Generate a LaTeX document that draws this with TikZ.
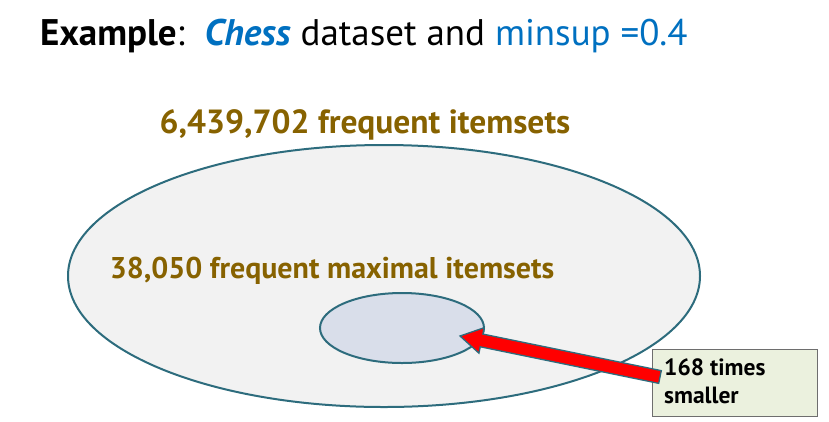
\documentclass[tikz,border=0pt]{standalone}
\usepackage{fontspec}
\setmainfont{PT Sans}
\usetikzlibrary{calc,shapes.geometric}
\definecolor{titleblue}{RGB}{0,112,192}
\definecolor{brownt}{RGB}{135,98,0}
\definecolor{tealline}{RGB}{45,108,125}
\definecolor{bigfill}{RGB}{242,242,242}
\definecolor{smallfill}{RGB}{217,222,234}
\definecolor{boxfill}{RGB}{235,241,222}
\definecolor{boxline}{RGB}{110,110,110}
\begin{document}
\begin{tikzpicture}[x=1pt,y=-1pt,
  setell/.style={ellipse, draw=tealline, line width=2pt, inner sep=0pt},
  brownlbl/.style={text=brownt, inner sep=0pt},
  notebox/.style={draw=boxline, fill=boxfill, line width=1pt, minimum width=165pt, minimum height=67pt, inner sep=0pt}]
\useasboundingbox (0,0) rectangle (829,421);
\node[anchor=west, inner sep=0pt, font=\fontsize{37}{44}\selectfont] (title) at (40,36)
  {\textbf{Example}:\ \ \textcolor{titleblue}{\textbf{\textit{Chess}}} dataset and \textcolor{titleblue}{minsup =0.4}};
\node[brownlbl, font=\fontsize{33.5}{38}\selectfont\bfseries] (lblall) at (365,125) {6,439,702 frequent itemsets};
\node[setell, fill=bigfill, minimum width=632pt, minimum height=262pt] (big) at (384,276) {};
\node[brownlbl, font=\fontsize{30}{36}\selectfont\bfseries] (lblmax) at (332,271) {38,050 frequent maximal itemsets};
\node[setell, fill=smallfill, minimum width=164pt, minimum height=70pt] (small) at (402,328) {};
\node[notebox] (box) at (735,383) {};
\node[anchor=north west, align=left, inner sep=0pt, font=\fontsize{23.5}{28}\selectfont\bfseries] (boxtxt) at ($(box.north west)+(12,10)$) {168 times\\smaller};
\coordinate (T) at ($(small.center)+(58,8)$);
\coordinate (S) at ($(box.west)+(8,-6)$);
\coordinate (H) at ($(T)!22pt!(S)$);
\draw[draw=tealline, fill=red, line width=1.3pt, line join=miter]
  (T) -- ($(H)!13pt!90:(S)$) -- ($(H)!6.5pt!90:(S)$) -- ($(S)!6.5pt!-90:(T)$)
  -- ($(S)!6.5pt!90:(T)$) -- ($(H)!6.5pt!-90:(S)$) -- ($(H)!13pt!-90:(S)$) -- cycle;
\end{tikzpicture}
\end{document}
